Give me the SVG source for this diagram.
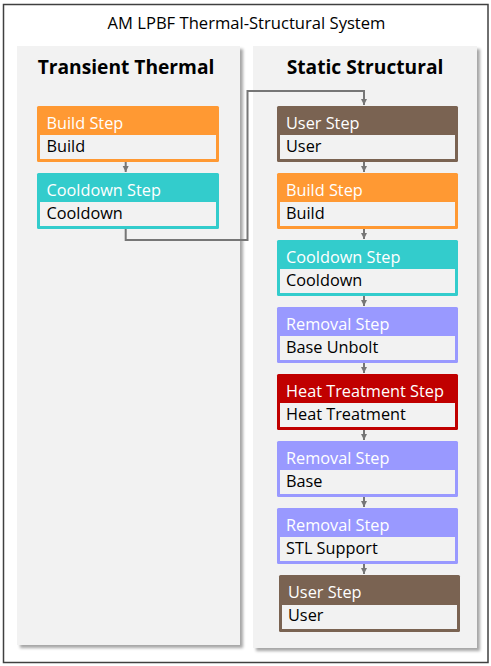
<svg xmlns="http://www.w3.org/2000/svg" width="491" height="666" viewBox="0 0 491 666">
<defs>
<filter id="sh" x="-5%" y="-5%" width="115%" height="115%">
<feDropShadow dx="3" dy="3" stdDeviation="1.5" flood-color="#000" flood-opacity="0.35"/>
</filter>
<marker id="ah" viewBox="0 0 6 6" refX="6" refY="3" markerWidth="3.2" markerHeight="3.2" orient="auto" markerUnits="strokeWidth">
<path d="M0,0 L6,3 L0,6 z" fill="#767676"/>
</marker>
<style>
.panel{fill:#f2f2f2}
.body{fill:#f2f2f2}
.ht{font-family:"Open Sans","Liberation Sans",sans-serif;font-size:16.3px;fill:#ffffff}
.bt{font-family:"Open Sans","Liberation Sans",sans-serif;font-size:16.3px;fill:#000000}
.ph{font-family:"Open Sans","Liberation Sans",sans-serif;font-size:19.2px;font-weight:bold;fill:#000000;text-anchor:middle}
.c{fill:none;stroke:#767676;stroke-width:2}
.build{fill:#ff9933}
.cool{fill:#33cccc}
.user{fill:#7a6352}
.rem{fill:#9999ff}
.heat{fill:#c00000}
</style>
</defs>
<rect x="3.5" y="4.5" width="484.5" height="658" fill="#ffffff" stroke="#404040" stroke-width="1.5"/>
<text x="246.5" y="29" font-family="Open Sans, Liberation Sans, sans-serif" font-size="16.6" text-anchor="middle" fill="#000">AM LPBF Thermal-Structural System</text>

<g id="panel-thermal">
<rect class="panel" x="17" y="46" width="223" height="599" filter="url(#sh)"/>
<text class="ph" x="126" y="74">Transient Thermal</text>
</g>
<g id="panel-structural">
<rect class="panel" x="253" y="46" width="224" height="602" filter="url(#sh)"/>
<text class="ph" x="365" y="74">Static Structural</text>
</g>

<g id="connectors">
<path class="c" d="M125.7,162 V172" marker-end="url(#ah)"/>
<path class="c" d="M125.7,229 V240 H247.5 V91 H364 V105" marker-end="url(#ah)"/>
<path class="c" d="M364,162 V172" marker-end="url(#ah)"/>
<path class="c" d="M364,229 V239" marker-end="url(#ah)"/>
<path class="c" d="M364,296 V306" marker-end="url(#ah)"/>
<path class="c" d="M364,363 V373" marker-end="url(#ah)"/>
<path class="c" d="M364,430 V440" marker-end="url(#ah)"/>
<path class="c" d="M364,497 V507" marker-end="url(#ah)"/>
<path class="c" d="M364,564 V574" marker-end="url(#ah)"/>
</g>

<g id="t-build">
<rect class="build" x="37" y="106" width="182" height="56" rx="1.5"/>
<rect class="body" x="40" y="135" width="176" height="24"/>
<text class="ht" x="46.5" y="129">Build Step</text>
<text class="bt" x="46.5" y="152">Build</text>
</g>
<g id="t-cooldown">
<rect class="cool" x="37" y="173" width="182" height="56" rx="1.5"/>
<rect class="body" x="40" y="202" width="176" height="24"/>
<text class="ht" x="46.5" y="196">Cooldown Step</text>
<text class="bt" x="46.5" y="219">Cooldown</text>
</g>

<g id="s-user1">
<rect class="user" x="277" y="106" width="181" height="56" rx="1.5"/>
<rect class="body" x="280" y="135" width="175" height="24"/>
<text class="ht" x="286" y="129">User Step</text>
<text class="bt" x="286" y="152">User</text>
</g>
<g id="s-build">
<rect class="build" x="277" y="173" width="181" height="56" rx="1.5"/>
<rect class="body" x="280" y="202" width="175" height="24"/>
<text class="ht" x="286" y="196">Build Step</text>
<text class="bt" x="286" y="219">Build</text>
</g>
<g id="s-cooldown">
<rect class="cool" x="277" y="240" width="181" height="56" rx="1.5"/>
<rect class="body" x="280" y="269" width="175" height="24"/>
<text class="ht" x="286" y="263">Cooldown Step</text>
<text class="bt" x="286" y="286">Cooldown</text>
</g>
<g id="s-removal-unbolt">
<rect class="rem" x="277" y="307" width="181" height="56" rx="1.5"/>
<rect class="body" x="280" y="336" width="175" height="24"/>
<text class="ht" x="286" y="330">Removal Step</text>
<text class="bt" x="286" y="353">Base Unbolt</text>
</g>
<g id="s-heat">
<rect class="heat" x="277" y="374" width="181" height="56" rx="1.5"/>
<rect class="body" x="280" y="403" width="175" height="24"/>
<text class="ht" x="286" y="397">Heat Treatment Step</text>
<text class="bt" x="286" y="420">Heat Treatment</text>
</g>
<g id="s-removal-base">
<rect class="rem" x="277" y="441" width="181" height="56" rx="1.5"/>
<rect class="body" x="280" y="470" width="175" height="24"/>
<text class="ht" x="286" y="464">Removal Step</text>
<text class="bt" x="286" y="487">Base</text>
</g>
<g id="s-removal-stl">
<rect class="rem" x="277" y="508" width="181" height="56" rx="1.5"/>
<rect class="body" x="280" y="537" width="175" height="24"/>
<text class="ht" x="286" y="531">Removal Step</text>
<text class="bt" x="286" y="554">STL Support</text>
</g>
<g id="s-user2">
<rect class="user" x="279" y="575" width="181" height="57" rx="1.5"/>
<rect class="body" x="282" y="605" width="175" height="24"/>
<text class="ht" x="288" y="598">User Step</text>
<text class="bt" x="288" y="621">User</text>
</g>
</svg>
